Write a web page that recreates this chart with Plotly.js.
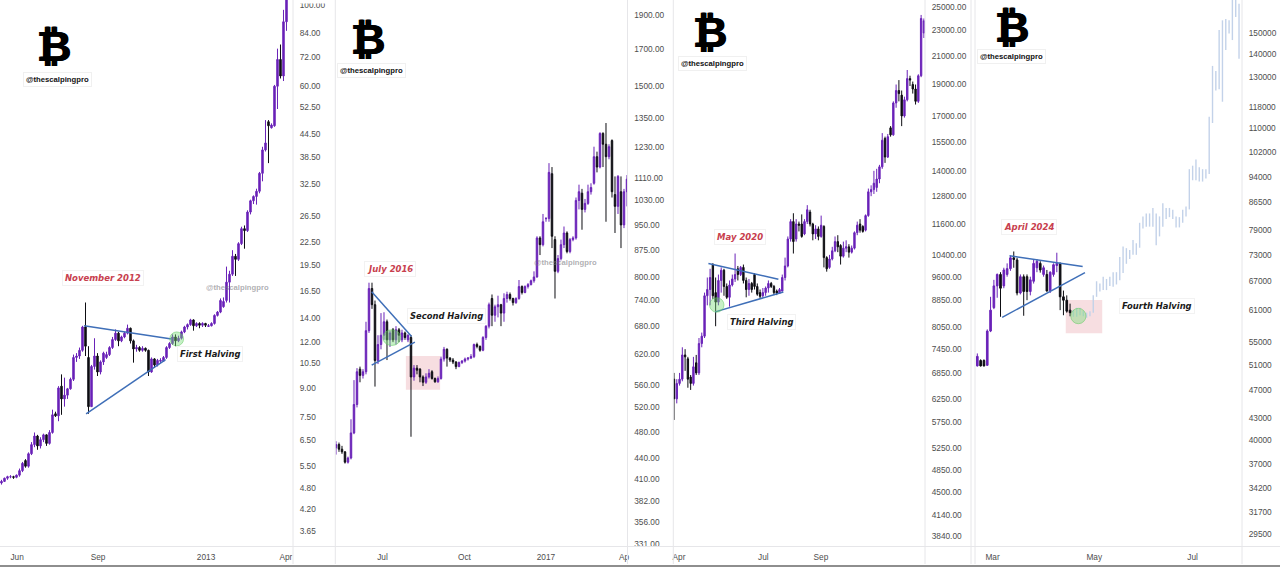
<!DOCTYPE html>
<html><head><meta charset="utf-8">
<script src="https://cdn.plot.ly/plotly-3.0.1.min.js"></script>
<style>html,body{margin:0;padding:0;background:#fff;overflow:hidden}#c{width:1280px;height:567px}</style>
</head><body><div id="c"></div>
<script>
// ---------- Panel 1: first halving (price USD) ----------
const p1Open=[4.95,5.0,5.1,5.15,5.15,5.13,5.2,5.35,5.7,5.5,5.95,6.3,6.65,6.25,6.5,6.7,6.35,6.8,7.65,7.55,9.1,8.4,8.6,8.95,9.5,10.9,11,11.4,13.2,10.9,8.0,10.3,11.0,9.95,10.6,10.9,11.1,11.6,12.2,12.7,12.1,12.4,12.7,13.1,12.1,11.5,11.6,11.4,11.55,11.4,9.95,10.8,10.4,10.65,10.65,10.9,11.6,11.9,12.4,12.1,12.3,12.8,13.2,13.4,13.8,13.3,13.5,13.35,13.5,13.25,13.3,13.5,14.2,14.5,15.0,15.6,17.5,18.4,20.6,20.2,22.3,24.5,24.2,27.2,29.2,30,31,34.7,40.2,48,46.2,46.8,60,71,64,90];
const p1High=[5.05,5.12,5.18,5.2,5.18,5.22,5.42,5.65,5.75,6.0,6.4,6.8,6.7,6.6,6.75,6.72,6.9,7.85,7.75,9.1,9.8,9.6,9.0,9.6,11.1,11.2,11.6,13.3,15.4,11.7,10.4,12.3,11.2,10.7,11.3,11.3,11.7,12.4,13,12.8,12.5,12.8,13.4,13.15,12.2,11.8,11.7,11.7,11.6,11.45,10.9,10.85,10.8,10.85,11,11.7,12,12.6,12.6,12.5,12.9,13.3,13.5,13.9,13.85,13.6,13.6,13.6,13.55,13.45,13.6,14.3,14.6,15.8,15.9,19.3,18.8,21.4,20.9,22.5,24.8,25,27.5,29.4,30.2,31.5,35,41,48.5,48.5,47.5,60.5,76,78,97,115];
const p1Low=[4.9,4.98,5.05,5.1,5.08,5.1,5.15,5.3,5.45,5.45,5.9,6.2,6.1,6.15,6.4,6.25,6.3,6.75,7.5,7.3,7.6,8.0,8.4,8.9,9.4,10.6,10.8,11.3,11.0,7.65,8.0,10.1,9.7,9.8,10.4,10.8,11,11.5,12.1,11.7,12.0,12.3,12.6,11.9,10.55,11.3,11.3,11.3,11.3,9.7,9.9,10.2,10.3,10.5,10.6,10.8,11.5,11.8,11.7,12,12.2,12.7,13,13.3,12.9,13.2,13.1,13.2,13.2,13.2,13.25,13.4,14.1,14.4,14.9,15.4,15.4,18.2,18.2,20,22.1,21.6,24,26.8,28.6,28.5,30.6,33,39.8,37,46,46.5,52,63,62,85];
const p1Close=[5.0,5.1,5.15,5.15,5.13,5.2,5.35,5.6,5.5,5.95,6.3,6.65,6.25,6.5,6.7,6.35,6.8,7.6,7.55,9.0,8.4,8.6,8.95,9.5,10.9,11.0,11.4,13.2,11.7,8.0,10.3,11.0,9.95,10.6,11.2,11.1,11.6,12.2,12.7,12.1,12.4,12.7,13.1,12.1,11.5,11.6,11.4,11.55,11.4,9.95,10.8,10.4,10.7,10.7,10.9,11.6,11.9,12.4,12.1,12.3,12.8,13.2,13.4,13.8,13.3,13.5,13.35,13.5,13.35,13.3,13.5,14.2,14.5,15.6,15.5,17.5,18.4,20.6,20.2,22.3,24.5,24.2,27.2,29.2,30,31,34.7,40.2,42,46.8,47,60,71,64,90,112];
const p1YTicks=[100,84,72,60,52.5,44.5,38.5,32.5,26.5,22.5,19.5,16.5,14,12,10.5,9,7.5,6.5,5.5,4.8,4.2,3.65];
const p1YLabels=["100.00","84.00","72.00","60.00","52.50","44.50","38.50","32.50","26.50","22.50","19.50","16.50","14.00","12.00","10.50","9.00","7.50","6.50","5.50","4.80","4.20","3.65"];
const p1XTicks=[5.2,32.2,68.2,94.8];
const p1XLabels=["Jun","Sep","2013","Apr"];

// ---------- Panel 2: second halving ----------
const p2Open=[455,460,453,449,434,440,478,525,590,578,585,670,770,730,607,640,660,690,650,672,650,672,650,665,650,655,575,592,590,575,565,575,585,572,566,572,610,630,612,608,604,595,603,606,610,612,615,640,636,628,655,680,745,705,725,730,710,745,755,745,735,745,775,760,775,780,790,800,910,890,970,970,1125,905,815,850,890,925,870,905,910,1030,1055,1000,1020,1060,1090,1190,1150,1285,1240,1190,1255,1050,1010,1060,950,1060];
const p2High=[465,463,458,450,442,500,569,592,595,590,690,785,785,740,660,710,712,695,670,676,680,676,672,668,662,660,598,598,592,578,582,590,588,574,576,615,635,632,614,612,606,605,608,613,614,620,642,644,638,658,682,735,755,730,752,732,758,762,760,747,748,792,778,778,784,793,815,915,915,985,975,1165,1150,915,860,905,945,930,910,915,1040,1085,1070,1035,1085,1090,1230,1210,1290,1290,1330,1240,1260,1115,1120,1115,1070,1120];
const p2Low=[445,449,446,432,432,438,476,520,565,572,580,665,720,557,600,630,650,608,635,645,640,645,645,650,645,472,568,580,565,558,562,572,570,564,564,570,605,595,604,600,590,594,600,603,607,610,612,632,625,626,650,675,680,690,700,680,690,735,740,728,732,742,755,758,770,778,785,798,860,885,960,960,880,745,810,845,880,865,865,900,905,1000,935,990,1015,1050,1085,1130,1145,1150,960,1180,1040,925,985,880,940,1010];
const p2Close=[460,453,449,434,440,478,525,585,578,585,670,770,730,607,640,660,690,650,665,650,672,660,665,655,660,575,592,588,575,565,575,582,572,566,572,610,630,612,608,604,595,603,606,610,612,615,640,636,628,655,680,730,705,725,730,710,745,755,745,735,745,775,760,775,780,790,800,910,890,960,970,1130,915,815,850,890,925,870,905,910,1030,1060,1000,1020,1060,1075,1190,1150,1285,1240,1190,1230,1060,1010,1115,950,1060,1105];
const p2YTicks=[1900,1700,1500,1350,1230,1110,1030,950,875,800,740,680,620,560,520,480,440,410,382,356,331];
const p2YLabels=["1900.00","1700.00","1500.00","1350.00","1230.00","1110.00","1030.00","950.00","875.00","800.00","740.00","680.00","620.00","560.00","520.00","480.00","440.00","410.00","382.00","356.00","331.00"];
const p2XTicks=[15.5,42.8,70,96];
const p2XLabels=["Jul","Oct","2017","Ap"];

// ---------- Panel 3: third halving ----------
const p3Open=[6700,6250,6600,6700,7300,7200,6750,6600,7100,6850,7600,7800,9000,9200,10050,9100,8800,9500,9850,9300,8950,9350,9550,9900,9700,9950,9500,9200,9400,9700,9300,9100,9000,9100,9250,9400,9300,9150,9080,9150,9600,10000,11000,11700,11000,11600,11600,11200,11700,12100,11600,11200,11400,11100,11500,10300,9950,10250,10550,10900,10750,10350,10650,10700,10500,10650,11250,11600,11500,11350,11950,13000,13100,13200,13600,14200,15700,14700,16300,15900,17800,18600,18300,17000,18000,19400,19000,18700,17900,19600,22800];
const p3High=[6850,6700,6850,7500,7450,7250,6800,7250,7300,7750,7900,9100,9600,9900,10100,9600,9700,9950,9900,9400,9500,9700,10450,10000,10000,10050,9600,9550,9450,9750,9400,9200,9250,9300,9500,9450,9350,9200,9250,9700,10300,11100,11800,12050,11800,11700,12000,11800,12400,12200,11650,11550,11500,11950,11550,10350,10400,10700,11100,11150,10800,10900,10950,10800,10750,11300,11700,11800,11550,12000,13150,13300,14000,14100,14300,16000,15800,15950,16400,17900,19000,19300,18600,18200,20000,19600,19200,19000,19700,24300,24000];
const p3Low=[5800,6150,6550,6650,6900,6500,6450,6550,6800,6800,7500,7750,8700,8700,8900,8080,8700,9100,9000,8900,8660,9300,9450,9500,9650,9400,8950,9000,9100,9200,9000,8900,8950,9000,9100,9250,9020,9020,9060,9140,9500,9950,10900,10450,10900,11300,11050,11150,11600,11500,10950,11000,10950,11050,9950,9800,9900,10200,10500,10500,10050,10300,10500,10300,10450,10600,11150,11250,11250,11300,11900,12800,12900,13000,13400,14100,14400,14650,15800,15850,17500,17900,16400,16900,17900,18900,18400,17700,17800,19500,22400];
const p3Close=[6250,6600,6700,7300,7250,6700,6600,7000,6850,7600,7800,9000,9200,9600,9000,8800,9500,9850,9300,8950,9350,9550,9700,9700,9950,9500,9200,9400,9200,9300,9050,8980,9100,9250,9400,9300,9100,9080,9200,9600,10000,11000,11700,10900,11600,11550,11100,11700,12200,11600,11200,11400,11100,11550,10300,9900,10250,10550,10900,10700,10350,10650,10700,10500,10650,11250,11550,11350,11300,11950,13000,13100,13400,13600,14200,15600,14700,15800,15900,17800,18600,18400,17000,18000,19400,19300,18700,17900,19600,24000,23800];
const p3YTicks=[25000,23000,21000,19000,17000,15500,14000,12800,11600,10400,9600,8850,8050,7450,6850,6250,5750,5250,4850,4500,4140,3840];
const p3YLabels=["25000.00","23000.00","21000.00","19000.00","17000.00","15500.00","14000.00","12800.00","11600.00","10400.00","9600.00","8850.00","8050.00","7450.00","6850.00","6250.00","5750.00","5250.00","4850.00","4500.00","4140.00","3840.00"];
const p3XTicks=[1.8,32.2,52.9];
const p3XLabels=["Apr","Jul","Sep"];

// ---------- Panel 4: fourth halving, real candles then projected bars ----------
const p4Open=[50900,51800,51800,51000,57000,61500,66000,68500,66000,68500,69800,72300,71800,64500,68000,68000,64800,67000,70000,71000,68500,68500,65000,68500,70500,71000,63700,63000,61000];
const p4High=[53000,52000,52000,57300,63700,67300,68700,69000,70000,71000,72800,73800,72300,68500,68500,68500,68000,72000,72000,71500,70500,69500,69200,71000,73500,71200,65000,64000,62300];
const p4Low=[50800,50800,50800,50900,56800,61200,63500,59700,65500,68000,69300,70000,64000,64200,59900,63000,64000,66500,69000,68900,68000,64800,64500,68000,69000,61000,60000,60500,59800];
const p4Close=[52500,50900,50900,57000,61000,66000,68500,65500,69500,69800,72300,71900,64500,68000,64800,64800,67300,71000,71500,69500,70000,64900,69000,70700,71000,63700,63000,60800,60500];
const p4ProjLow=[59700,59700,60000,59800,59500,59800,60500,63700,64800,65100,65100,66000,65800,66300,67200,68800,70900,72000,73000,73000,74700,79500,80000,80000,80000,75300,77500,80000,82000,82500,82000,79800,79800,81000,82700,84600,93000,93000,92600,92600,93500,94900,112000,124500,125000,120000,142000,149800,146600,158000,138000];
const p4ProjHigh=[61000,61500,61500,60800,60500,60800,64000,67000,66500,68000,67500,68000,69000,69000,72500,75000,74600,74160,76600,75800,81000,82700,83500,83500,85000,83500,82700,86300,85000,85000,84500,82700,82500,84500,85400,96400,97500,99500,97000,96400,96400,114300,134800,132600,151500,156300,157000,156300,167000,167000,165000];
const p4YTicks=[150000,140000,130000,118000,110000,102000,94000,86500,79000,73000,67000,61000,55000,51000,47000,43000,40000,37000,34200,31700,29500];
const p4YLabels=p4YTicks.map(String);
const p4XTicks=[4.6,35.3,65];
const p4XLabels=["Mar","May","Jul"];

const PURPLE='#6a22b8', BLACK='#0d0d12', PROJ='#c3d2e9', BLUE='#3f6fb8', AXIS='#e6e6e9', TXT='#4e4e4e';
const H=567,W=1280,plotBottom=546.5;
const idx=a=>a.map((_,i)=>i);

function candle(n,o,h,l,c,up,down){
  const s=n===1?'':n;
  return {type:'candlestick',xaxis:'x'+s,yaxis:'y'+s,x:idx(c),open:o,high:h,low:l,close:c,
    increasing:{line:{color:up,width:1},fillcolor:up},decreasing:{line:{color:down,width:1},fillcolor:down},
    hoverinfo:'skip',showlegend:false};
}
const traces=[
  candle(1,p1Open,p1High,p1Low,p1Close,PURPLE,BLACK),
  candle(2,p2Open,p2High,p2Low,p2Close,PURPLE,BLACK),
  candle(3,p3Open,p3High,p3Low,p3Close,PURPLE,BLACK),
  candle(4,p4Open,p4High,p4Low,p4Close,PURPLE,BLACK),
  {type:'ohlc',xaxis:'x4',yaxis:'y4',x:p4ProjLow.map((_,i)=>i+p4Close.length),tickwidth:0,
   open:p4ProjLow,high:p4ProjHigh,low:p4ProjLow,close:p4ProjHigh,
   increasing:{line:{color:PROJ,width:1.4}},decreasing:{line:{color:PROJ,width:1.4}},
   hoverinfo:'skip',showlegend:false}
];

const layout={width:W,height:H,margin:{l:0,r:0,t:0,b:0},paper_bgcolor:'#fff',plot_bgcolor:'#fff',showlegend:false,boxgap:0.3};
const tfont={family:'"Liberation Sans",Arial,sans-serif',size:8.3,color:TXT};
function axes(n,dom,xr,yr,xt,xl,yt,yl){
  const s=n===1?'':n;
  layout['xaxis'+s]={domain:[dom[0]/W,dom[1]/W],range:xr,anchor:'y'+s,tickmode:'array',tickvals:xt,ticktext:xl,
    showgrid:false,zeroline:false,showline:false,ticks:'outside',ticklen:3,tickcolor:'rgba(0,0,0,0)',tickfont:tfont,
    rangeslider:{visible:false},fixedrange:true,automargin:false};
  layout['yaxis'+s]={domain:[(H-plotBottom)/H,1],type:'log',range:yr.map(Math.log10),anchor:'x'+s,side:'right',tickmode:'array',tickvals:yt,ticktext:yl,
    showgrid:false,zeroline:false,showline:false,ticks:'outside',ticklen:4,tickcolor:'rgba(0,0,0,0)',tickfont:tfont,ticklabeloverflow:'allow',fixedrange:true,automargin:false};
}
axes(1,[0,293],[-0.5,97.17],[3.32,103.2],p1XTicks,p1XLabels,p1YTicks,p1YLabels);
axes(2,[335.3,627.5],[-0.23,97.17],[328.5,1996.5],p2XTicks,p2XLabels,p2YTicks,p2YLabels);
axes(3,[673.3,925],[-0.25,90.4],[3707,25620],p3XTicks,p3XLabels,p3YTicks,p3YLabels);
axes(4,[975,1242],[-0.7,79.9],[28320,166960],p4XTicks,p4XLabels,p4YTicks,p4YLabels);

// ---------- page furniture and drawings ----------
const px=v=>v/W, py=v=>1-v/H;
const shapes=[];
// masks that crop the tick labels at the panel edges
function mask(x0,x1,y0,y1){shapes.push({type:'rect',xref:'paper',yref:'paper',x0:px(x0),x1:px(x1),y0:py(y0),y1:py(y1),fillcolor:'#fff',line:{width:0},layer:'above'});}
mask(628,671,546.5,552); mask(294,334,0,3.5); mask(926,970,0,4);
// frame lines
[293,335.3,627.5,673.3,925,971,975,1242].forEach(v=>shapes.push({type:'line',xref:'paper',yref:'paper',x0:px(v),x1:px(v),y0:py(0),y1:py(564),line:{color:AXIS,width:1},layer:'above'}));
shapes.push({type:'line',xref:'paper',yref:'paper',x0:0,x1:1,y0:py(plotBottom),y1:py(plotBottom),line:{color:AXIS,width:1},layer:'above'});
shapes.push({type:'line',xref:'paper',yref:'paper',x0:0,x1:1,y0:py(566),y1:py(566),line:{color:'#8e8e8e',width:2},layer:'above'});
// pink zones
const pink='rgba(240,190,196,0.5)';
shapes.push({type:'rect',xref:'x2',yref:'y2',x0:23.3,x1:34.7,y0:551,y1:616,fillcolor:pink,line:{width:0},layer:'below'});
shapes.push({type:'rect',xref:'x4',yref:'y4',x0:26.7,x1:37.7,y0:56570,y1:63040,fillcolor:pink,line:{width:0},layer:'below'});
// trend lines
function seg(n,x0,y0,x1,y1){const s=n===1?'':n;shapes.push({type:'line',xref:'x'+s,yref:'y'+s,x0,y0,x1,y1,line:{color:BLUE,width:1.5},layer:'above'});}
seg(1,27.5,13.3,56.7,12.24); seg(1,28.2,7.64,54.7,10.75);
seg(2,11.9,762,25.2,657);    seg(2,11.9,598,26.3,645);
seg(3,12.4,10090,37.6,9538); seg(3,14.8,8500,39.4,9120);
seg(4,9.7,72800,31.8,70300); seg(4,7.5,59600,32.5,68900);
// green marks
function dot(n,x0,x1,y0,y1){const s=n===1?'':n;shapes.push({type:'circle',xref:'x'+s,yref:'y'+s,x0,x1,y0,y1,fillcolor:'rgba(120,220,120,0.42)',line:{color:'rgba(90,200,90,0.7)',width:0.7},layer:'above'});}
dot(1,56.1,60.7,11.72,12.8); dot(2,15.6,21.6,638,672); dot(3,12.8,18,8490,8940); dot(4,28.2,32.8,58370,61360);
layout.shapes=shapes;

const ann=[];
function label(x,y,text,font,extra){ann.push(Object.assign({xref:'paper',yref:'paper',x:px(x),y:py(y),xanchor:'center',yanchor:'middle',text,showarrow:false,font},extra||{}));}
const logoFont={family:'"DejaVu Sans",sans-serif',size:42,color:'#000',weight:700,shadow:'0.7px 0 0 #000,-0.7px 0 0 #000'};
[[54,46.5],[368,39.5],[710,32.5],[1012,27.5]].forEach(p=>label(p[0],p[1],'\u20BF',logoFont));
const handle={family:'"Liberation Sans",sans-serif',size:7.7,color:'#111',weight:700};
[[57,79],[371,70],[712,63],[1011,56.5]].forEach(p=>label(p[0],p[1],'@thescalpingpro',handle,{bgcolor:'#fff',bordercolor:'#f0f0f0',borderwidth:1,borderpad:2}));
const wm={family:'"Liberation Sans",sans-serif',size:7.7,color:'rgba(120,120,125,0.6)',weight:700};
label(237,287,'@thescalpingpro',wm); label(565,262,'@thescalpingpro',wm);
const red={family:'"DejaVu Sans",sans-serif',size:8.5,color:'#c8404e',weight:700,style:'italic'};
[[103,278,'November 2012'],[390,269,'July 2016'],[740,237,'May 2020'],[1029,227,'April 2024']].forEach(p=>label(p[0],p[1],p[2],red,{bgcolor:'#fff',bordercolor:'#f2f2f2',borderwidth:1,borderpad:2}));
const blk={family:'"DejaVu Sans",sans-serif',size:8.4,color:'#1a1a1a',weight:700,style:'italic'};
[[210,354,'First Halving'],[446,316,'Second Halving'],[761,322,'Third Halving'],[1157,306,'Fourth Halving']].forEach(p=>label(p[0],p[1],p[2],blk,{bgcolor:'#fff',bordercolor:'#f2f2f2',borderwidth:1,borderpad:2}));
layout.annotations=ann;

Plotly.newPlot('c',traces,layout,{displayModeBar:false,staticPlot:true});
</script></body></html>
